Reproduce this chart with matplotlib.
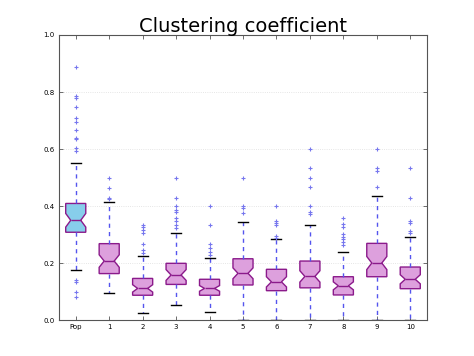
import matplotlib
matplotlib.use("Agg")
import matplotlib.pyplot as plt

labels = ["Pop", "1", "2", "3", "4", "5", "6", "7", "8", "9", "10"]
q1 = [0.308, 0.163, 0.087, 0.125, 0.087, 0.123, 0.103, 0.113, 0.088, 0.152, 0.110]
med = [0.350, 0.207, 0.111, 0.158, 0.111, 0.164, 0.134, 0.153, 0.120, 0.200, 0.143]
q3 = [0.409, 0.268, 0.146, 0.199, 0.143, 0.215, 0.178, 0.207, 0.152, 0.269, 0.186]
whislo = [0.175, 0.094, 0.023, 0.053, 0.029, 0.0, 0.0, 0.0, 0.0, 0.0, 0.0]
whishi = [0.550, 0.414, 0.226, 0.304, 0.219, 0.343, 0.284, 0.333, 0.237, 0.436, 0.292]
notch_half = [0.024, 0.022, 0.013, 0.019, 0.010, 0.019, 0.018, 0.020, 0.014, 0.023, 0.016]
fliers = [
    [0.887, 0.787, 0.778, 0.749, 0.710, 0.694, 0.667, 0.640, 0.635, 0.602, 0.594,
     0.140, 0.132, 0.099, 0.082],
    [0.499, 0.462, 0.429, 0.423],
    [0.333, 0.325, 0.316, 0.306, 0.266, 0.246, 0.236],
    [0.499, 0.427, 0.400, 0.386, 0.378, 0.357, 0.347, 0.333, 0.322],
    [0.400, 0.333, 0.266, 0.251, 0.240, 0.228],
    [0.499, 0.400, 0.394, 0.377],
    [0.400, 0.349, 0.339, 0.333, 0.295, 0.289],
    [0.599, 0.535, 0.499, 0.466, 0.400, 0.380, 0.371],
    [0.359, 0.336, 0.327, 0.301, 0.292, 0.283, 0.273, 0.263],
    [0.599, 0.535, 0.523, 0.466],
    [0.535, 0.427, 0.347, 0.339, 0.312, 0.306],
]

stats = []
for i in range(len(labels)):
    stats.append(dict(label=labels[i], med=med[i], q1=q1[i], q3=q3[i],
                      whislo=whislo[i], whishi=whishi[i], fliers=fliers[i],
                      cilo=med[i] - notch_half[i], cihi=med[i] + notch_half[i]))

fig = plt.figure(figsize=(4.74, 3.56), dpi=100)
ax = fig.add_axes([0.1245, 0.101, 0.7763, 0.8007])

bp = ax.bxp(stats, positions=range(1, len(labels) + 1), widths=0.6,
            shownotches=True, patch_artist=True,
            boxprops=dict(edgecolor="#8B1A8B", linewidth=1.0),
            medianprops=dict(color="#8B1A8B", linewidth=1.0),
            whiskerprops=dict(color="#5555EE", linestyle=(0, (3, 3)), linewidth=1.0),
            capprops=dict(color="black", linewidth=1.0),
            flierprops=dict(marker="+", markeredgecolor="#7777EE",
                            markersize=3, markeredgewidth=0.8, linestyle="none"))
for i, patch in enumerate(bp["boxes"]):
    patch.set_facecolor("#87CEEB" if i == 0 else "#DDA0DD")

ax.set_xlim(0.5, len(labels) + 0.5)
ax.set_ylim(0.0, 1.0)
ax.set_yticks([0.0, 0.2, 0.4, 0.6, 0.8, 1.0])
ax.set_yticklabels(["0.0", "0.2", "0.4", "0.6", "0.8", "1.0"])
ax.yaxis.grid(True, color="#dddddd", linestyle=":", linewidth=0.6)
ax.set_axisbelow(True)
ax.tick_params(direction="in", top=True, right=True, labelsize=5, length=3,
               width=0.6, pad=3, colors="#555555", labelcolor="black")
for s in ax.spines.values():
    s.set_color("#555555")
    s.set_linewidth(0.8)
ax.set_title("Clustering coefficient", fontsize=14, pad=2)

fig.savefig("out.png", dpi=100)
